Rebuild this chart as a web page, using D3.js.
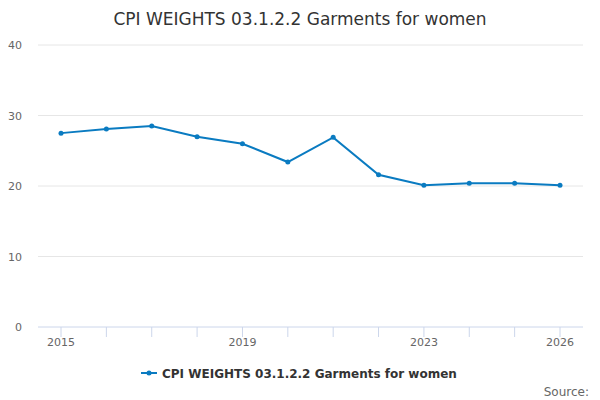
<!DOCTYPE html>
<html><head><meta charset="utf-8">
<script src="https://cdn.jsdelivr.net/npm/d3@7"></script>
<style>body{margin:0;font-family:"DejaVu Sans",sans-serif;background:#fff}</style>
</head><body><div id="chart"></div>
<script>
const years = [2015,2016,2017,2018,2019,2020,2021,2022,2023,2024,2025,2026];
const values = [27.5,28.1,28.5,27.0,26.0,23.4,26.9,21.6,20.1,20.4,20.4,20.1];
const yTicks = [0,10,20,30,40];
const labelYears = [2015,2019,2023,2026];
const seriesName = "CPI WEIGHTS 03.1.2.2 Garments for women";
const color = "#0a7bc1";

const svg = d3.select("#chart").append("svg").attr("width",600).attr("height",400);
const x = d3.scaleLinear().domain([2015,2026]).range([61,560]);
const y = d3.scaleLinear().domain([0,40]).range([327,45]);

svg.append("text").attr("x",300).attr("y",25).attr("text-anchor","middle")
  .style("font-size","17px").style("fill","#333").text(seriesName.replace("CPI WEIGHTS","CPI WEIGHTS"));

yTicks.forEach(t=>{
  svg.append("line").attr("x1",38).attr("x2",583).attr("y1",y(t)).attr("y2",y(t))
    .attr("stroke", t===0 ? "#ccd6eb" : "#e6e6e6");
  svg.append("text").attr("x",22).attr("y",y(t)+4).attr("text-anchor","end")
    .style("font-size","11px").style("fill","#666").text(t);
});
years.forEach(yr=>{
  svg.append("line").attr("x1",x(yr)).attr("x2",x(yr)).attr("y1",327).attr("y2",337).attr("stroke","#ccd6eb");
});
labelYears.forEach(yr=>{
  svg.append("text").attr("x",x(yr)).attr("y",346).attr("text-anchor","middle")
    .style("font-size","11px").style("fill","#666").text(yr);
});

const line = d3.line().x((d,i)=>x(years[i])).y(d=>y(d));
svg.append("path").datum(values).attr("d",line).attr("fill","none").attr("stroke",color).attr("stroke-width",2);
svg.selectAll("circle.pt").data(values).enter().append("circle")
  .attr("cx",(d,i)=>x(years[i])).attr("cy",d=>y(d)).attr("r",2.5).attr("fill",color);

svg.append("line").attr("x1",141).attr("x2",157).attr("y1",373).attr("y2",373).attr("stroke",color).attr("stroke-width",2);
svg.append("circle").attr("cx",149).attr("cy",373).attr("r",2.5).attr("fill",color);
svg.append("text").attr("x",162).attr("y",378).style("font-size","12px").style("font-weight","bold")
  .style("fill","#333").text(seriesName);
svg.append("text").attr("x",589).attr("y",396).attr("text-anchor","end").style("font-size","12px")
  .style("fill","#666").text("Source:");
</script></body></html>
